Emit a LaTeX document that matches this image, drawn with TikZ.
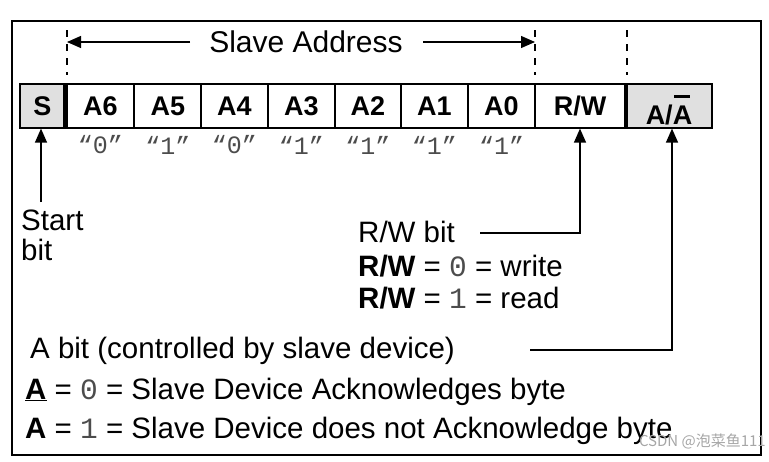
\documentclass[tikz,border=0pt]{standalone}
\usepackage{fontspec}
\setmainfont{Liberation Sans}
\newfontfamily\monof{Liberation Mono}
\newfontfamily\cjkf{Noto Sans CJK SC}
\usetikzlibrary{arrows.meta}
\begin{document}
\begin{tikzpicture}[x=1pt,y=-1pt,
  cell/.style={draw,line width=1.2pt,minimum height=44pt,inner sep=0pt,font=\fontsize{27}{30}\selectfont\bfseries},
  lbl/.style={inner sep=0pt,anchor=base west,font=\fontsize{29.5}{32}\selectfont},
  q/.style={inner sep=0pt,font=\monof\fontsize{25}{28}\selectfont,text=black!70},
  arr/.style={line width=1.3pt,-{Triangle[length=14pt,width=12pt]}},
  ln/.style={line width=1.3pt},
  dsh/.style={line width=1.3pt,dash pattern=on 7pt off 7pt}]
\useasboundingbox (0,0) rectangle (769,461);
\draw[line width=1.5pt] (12,21) rectangle (761,455);
% cells
\node[cell,fill=black!12,minimum width=45pt] (s) at (42.5,106) {S};
\foreach \n/\t/\x in {a6/A6/100.5,a5/A5/168,a4/A4/234.5,a3/A3/301.5,a2/A2/368,a1/A1/434.5,a0/A0/501.5}{
  \node[cell,minimum width=67pt] (\n) at (\x,106) {\t};}
\node[cell,minimum width=90pt] (rw) at (580,106) {R/W};
\node[cell,fill=black!12,minimum width=86pt] (ack) at (669,106) {};
\node[font=\fontsize{27}{30}\selectfont\bfseries,inner sep=0pt] (ackt) at (669,110) {A/\rlap{\hspace{0.05em}\raisebox{0.95em}{\rule{0.58em}{3pt}}}A};
\draw[line width=4pt] (65,84) -- (65,128);
\draw[line width=4pt] (626,84) -- (626,128);
% quotes
\foreach \n/\v in {a6/0,a5/1,a4/0,a3/1,a2/1,a1/1,a0/1}{
  \node[q] at ([yshift=-39pt]\n.center) {\textquotedblleft\v\textquotedblright};}
% slave address
\node[font=\fontsize{30}{32}\selectfont,inner sep=0pt] (sa) at (306,42) {Slave Address};
\coordinate (dl) at (67,42); \coordinate (dr) at (535,42);
\draw[dsh] (67,30) -- (67,75);
\draw[dsh] (535,30) -- (535,75);
\draw[dsh] (627,30) -- (627,75);
\draw[arr] (190,42) -- (dl);
\draw[arr] (423,42) -- (dr);
% start
\node[lbl,align=left,anchor=north west] (st) at (21,210) {Start\\[-2pt]bit};
\draw[arr] (41,202) -- (s.south -| 41,0);
% R/W
\node[lbl] (rwb) at (358,242) {R/W bit};
\coordinate (rc) at (580,233);
\draw[arr] (480,233) -- (rc) -- (rw.south);
\node[lbl] (rw0) at (358,276) {\textbf{R/W} = {\monof\color{black!70}0} = write};
\node[lbl] (rw1) at (358,308) {\textbf{R/W} = {\monof\color{black!70}1} = read};
% A bit
\node[lbl] (ab) at (30,358) {A bit (controlled by slave device)};
\coordinate (ac) at (672,350);
\draw[arr] (530,350) -- (ac) -- (ack.south -| ac);
\node[lbl] (a0) at (25,399) {\underline{\textbf{A}} = {\monof\color{black!70}0} = Slave Device Acknowledges byte};
\node[lbl] (a1) at (25,438) {\textbf{A} = {\monof\color{black!70}1} = Slave Device does not Acknowledge byte};
\node[inner sep=0pt,anchor=base east,font=\cjkf\fontsize{15}{16}\selectfont,text=black!35] (wm) at (766,446) {CSDN @泡菜鱼111};
\end{tikzpicture}
\end{document}
